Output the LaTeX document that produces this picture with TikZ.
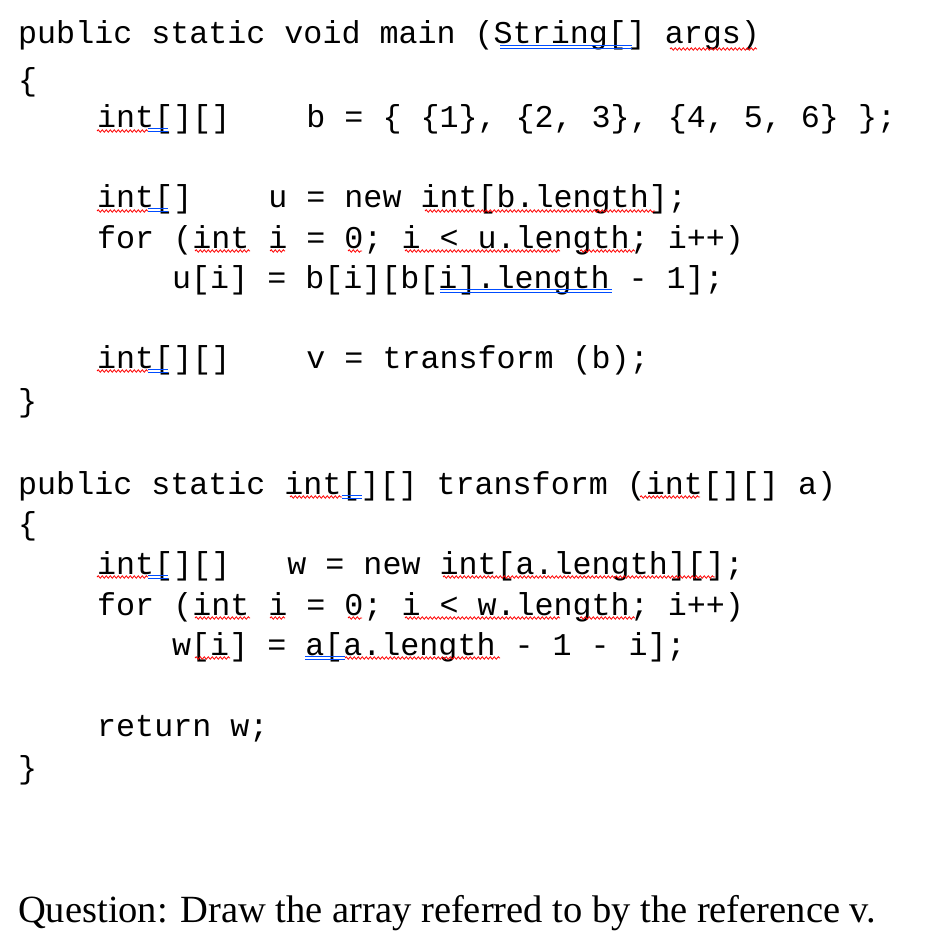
\documentclass[tikz,border=0pt]{standalone}
\usepackage{fontspec}
\setmonofont{Liberation Mono}
\setmainfont{Liberation Serif}
\usetikzlibrary{decorations.pathmorphing}
\begin{document}
\begin{tikzpicture}[x=1pt,y=-1pt,
  code/.style={anchor=base west,inner sep=0pt,font=\ttfamily\fontsize{31.7}{36}\selectfont},
  wavy/.style={draw=red,line width=0.8pt,decorate,decoration={snake,amplitude=1.2pt,segment length=4pt}},
  dbl/.style={draw=blue!70!cyan,line width=1pt}]
\useasboundingbox (0,0) rectangle (948,944);
\newcommand{\sq}[3]{\draw[wavy] (#1,#3) -- (#2,#3);}
\newcommand{\du}[3]{\draw[dbl] (#1,#3) -- (#2,#3); \draw[dbl] (#1,#3+3) -- (#2,#3+3);}
\node[code] (l1) at (18,44) {public static void main (String[] args)};
\node[code] (l2) at (18,91) {\{};
\node[code] (l3) at (97,128) {int[][]\ \ \ \ b = \{ \{1\}, \{2, 3\}, \{4, 5, 6\} \};};
\node[code] (l4) at (97,208) {int[]\ \ \ \ u = new int[b.length];};
\node[code] (l5) at (97,248) {for (int i = 0; i < u.length; i++)};
\node[code] (l6) at (172,288) {u[i] = b[i][b[i].length - 1];};
\node[code] (l7) at (97,368) {int[][]\ \ \ \ v = transform (b);};
\node[code] (l8) at (18,411) {\}};
\node[code] (l9) at (18,494) {public static int[][] transform (int[][] a)};
\node[code] (l10) at (18,534) {\{};
\node[code] (l11) at (97,574) {int[][]\ \ \ w = new int[a.length][];};
\node[code] (l12) at (97,615) {for (int i = 0; i < w.length; i++)};
\node[code] (l13) at (172,655) {w[i] = a[a.length - 1 - i];};
\node[code] (l14) at (97,736) {return w;};
\node[code] (l15) at (18,778) {\}};
\node[anchor=base west,inner sep=0pt,font=\fontsize{38.5}{42}\selectfont] (q) at (18,922) {Question: Draw the array referred to by the reference v.};
% spelling marks
\du{500}{632}{46} \sq{670}{757}{49}
\sq{97}{148}{131} \du{148}{168}{129}
\sq{97}{148}{211} \du{148}{168}{209} \sq{425}{655}{211}
\sq{195}{250}{251} \sq{270}{285}{251} \sq{348}{362}{251} \sq{405}{560}{251} \sq{580}{635}{251}
\du{440}{612}{289}
\sq{97}{148}{371} \du{148}{168}{369}
\sq{290}{342}{497} \du{342}{362}{495} \sq{640}{700}{497}
\sq{97}{148}{577} \du{148}{168}{575} \sq{443}{715}{577}
\sq{195}{250}{618} \sq{270}{285}{618} \sq{348}{362}{618} \sq{405}{560}{618} \sq{580}{635}{618}
\sq{195}{230}{658} \du{305}{345}{656} \sq{345}{500}{658}
\end{tikzpicture}
\end{document}
